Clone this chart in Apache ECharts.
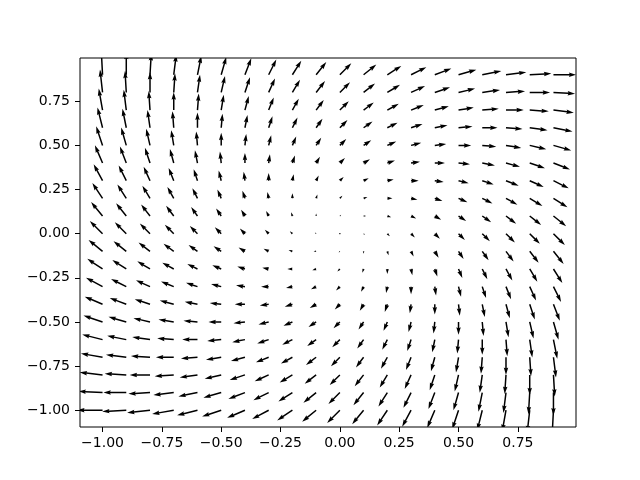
<!DOCTYPE html>
<html>
<head>
<meta charset="utf-8">
<script src="https://cdn.jsdelivr.net/npm/echarts@6/dist/echarts.min.js"></script>
<style>html,body{margin:0;padding:0;background:#fff;}#chart{width:640px;height:480px;}</style>
</head>
<body>
<div id="chart"></div>
<script>
var xs = [-1.0,-0.9,-0.8,-0.7,-0.6,-0.5,-0.4,-0.3,-0.2,-0.1,0.0,0.1,0.2,0.3,0.4,0.5,0.6,0.7,0.8,0.9];
var ys = [-1.0,-0.9,-0.8,-0.7,-0.6,-0.5,-0.4,-0.3,-0.2,-0.1,0.0,0.1,0.2,0.3,0.4,0.5,0.6,0.7,0.8,0.9];
var U = [
[-2.0,-1.9,-1.8,-1.7,-1.6,-1.5,-1.4,-1.3,-1.2,-1.1,-1.0,-0.9,-0.8,-0.7,-0.6,-0.5,-0.4,-0.3,-0.2,-0.1],
[-1.9,-1.8,-1.7,-1.6,-1.5,-1.4,-1.3,-1.2,-1.1,-1.0,-0.9,-0.8,-0.7,-0.6,-0.5,-0.4,-0.3,-0.2,-0.1,0.0],
[-1.8,-1.7,-1.6,-1.5,-1.4,-1.3,-1.2,-1.1,-1.0,-0.9,-0.8,-0.7,-0.6,-0.5,-0.4,-0.3,-0.2,-0.1,0.0,0.1],
[-1.7,-1.6,-1.5,-1.4,-1.3,-1.2,-1.1,-1.0,-0.9,-0.8,-0.7,-0.6,-0.5,-0.4,-0.3,-0.2,-0.1,0.0,0.1,0.2],
[-1.6,-1.5,-1.4,-1.3,-1.2,-1.1,-1.0,-0.9,-0.8,-0.7,-0.6,-0.5,-0.4,-0.3,-0.2,-0.1,0.0,0.1,0.2,0.3],
[-1.5,-1.4,-1.3,-1.2,-1.1,-1.0,-0.9,-0.8,-0.7,-0.6,-0.5,-0.4,-0.3,-0.2,-0.1,0.0,0.1,0.2,0.3,0.4],
[-1.4,-1.3,-1.2,-1.1,-1.0,-0.9,-0.8,-0.7,-0.6,-0.5,-0.4,-0.3,-0.2,-0.1,0.0,0.1,0.2,0.3,0.4,0.5],
[-1.3,-1.2,-1.1,-1.0,-0.9,-0.8,-0.7,-0.6,-0.5,-0.4,-0.3,-0.2,-0.1,0.0,0.1,0.2,0.3,0.4,0.5,0.6],
[-1.2,-1.1,-1.0,-0.9,-0.8,-0.7,-0.6,-0.5,-0.4,-0.3,-0.2,-0.1,0.0,0.1,0.2,0.3,0.4,0.5,0.6,0.7],
[-1.1,-1.0,-0.9,-0.8,-0.7,-0.6,-0.5,-0.4,-0.3,-0.2,-0.1,0.0,0.1,0.2,0.3,0.4,0.5,0.6,0.7,0.8],
[-1.0,-0.9,-0.8,-0.7,-0.6,-0.5,-0.4,-0.3,-0.2,-0.1,0.0,0.1,0.2,0.3,0.4,0.5,0.6,0.7,0.8,0.9],
[-0.9,-0.8,-0.7,-0.6,-0.5,-0.4,-0.3,-0.2,-0.1,0.0,0.1,0.2,0.3,0.4,0.5,0.6,0.7,0.8,0.9,1.0],
[-0.8,-0.7,-0.6,-0.5,-0.4,-0.3,-0.2,-0.1,0.0,0.1,0.2,0.3,0.4,0.5,0.6,0.7,0.8,0.9,1.0,1.1],
[-0.7,-0.6,-0.5,-0.4,-0.3,-0.2,-0.1,0.0,0.1,0.2,0.3,0.4,0.5,0.6,0.7,0.8,0.9,1.0,1.1,1.2],
[-0.6,-0.5,-0.4,-0.3,-0.2,-0.1,0.0,0.1,0.2,0.3,0.4,0.5,0.6,0.7,0.8,0.9,1.0,1.1,1.2,1.3],
[-0.5,-0.4,-0.3,-0.2,-0.1,0.0,0.1,0.2,0.3,0.4,0.5,0.6,0.7,0.8,0.9,1.0,1.1,1.2,1.3,1.4],
[-0.4,-0.3,-0.2,-0.1,0.0,0.1,0.2,0.3,0.4,0.5,0.6,0.7,0.8,0.9,1.0,1.1,1.2,1.3,1.4,1.5],
[-0.3,-0.2,-0.1,0.0,0.1,0.2,0.3,0.4,0.5,0.6,0.7,0.8,0.9,1.0,1.1,1.2,1.3,1.4,1.5,1.6],
[-0.2,-0.1,0.0,0.1,0.2,0.3,0.4,0.5,0.6,0.7,0.8,0.9,1.0,1.1,1.2,1.3,1.4,1.5,1.6,1.7],
[-0.1,0.0,0.1,0.2,0.3,0.4,0.5,0.6,0.7,0.8,0.9,1.0,1.1,1.2,1.3,1.4,1.5,1.6,1.7,1.8]
];
var V = [
[0.0,-0.1,-0.2,-0.3,-0.4,-0.5,-0.6,-0.7,-0.8,-0.9,-1.0,-1.1,-1.2,-1.3,-1.4,-1.5,-1.6,-1.7,-1.8,-1.9],
[0.1,0.0,-0.1,-0.2,-0.3,-0.4,-0.5,-0.6,-0.7,-0.8,-0.9,-1.0,-1.1,-1.2,-1.3,-1.4,-1.5,-1.6,-1.7,-1.8],
[0.2,0.1,0.0,-0.1,-0.2,-0.3,-0.4,-0.5,-0.6,-0.7,-0.8,-0.9,-1.0,-1.1,-1.2,-1.3,-1.4,-1.5,-1.6,-1.7],
[0.3,0.2,0.1,0.0,-0.1,-0.2,-0.3,-0.4,-0.5,-0.6,-0.7,-0.8,-0.9,-1.0,-1.1,-1.2,-1.3,-1.4,-1.5,-1.6],
[0.4,0.3,0.2,0.1,0.0,-0.1,-0.2,-0.3,-0.4,-0.5,-0.6,-0.7,-0.8,-0.9,-1.0,-1.1,-1.2,-1.3,-1.4,-1.5],
[0.5,0.4,0.3,0.2,0.1,0.0,-0.1,-0.2,-0.3,-0.4,-0.5,-0.6,-0.7,-0.8,-0.9,-1.0,-1.1,-1.2,-1.3,-1.4],
[0.6,0.5,0.4,0.3,0.2,0.1,0.0,-0.1,-0.2,-0.3,-0.4,-0.5,-0.6,-0.7,-0.8,-0.9,-1.0,-1.1,-1.2,-1.3],
[0.7,0.6,0.5,0.4,0.3,0.2,0.1,0.0,-0.1,-0.2,-0.3,-0.4,-0.5,-0.6,-0.7,-0.8,-0.9,-1.0,-1.1,-1.2],
[0.8,0.7,0.6,0.5,0.4,0.3,0.2,0.1,0.0,-0.1,-0.2,-0.3,-0.4,-0.5,-0.6,-0.7,-0.8,-0.9,-1.0,-1.1],
[0.9,0.8,0.7,0.6,0.5,0.4,0.3,0.2,0.1,0.0,-0.1,-0.2,-0.3,-0.4,-0.5,-0.6,-0.7,-0.8,-0.9,-1.0],
[1.0,0.9,0.8,0.7,0.6,0.5,0.4,0.3,0.2,0.1,0.0,-0.1,-0.2,-0.3,-0.4,-0.5,-0.6,-0.7,-0.8,-0.9],
[1.1,1.0,0.9,0.8,0.7,0.6,0.5,0.4,0.3,0.2,0.1,0.0,-0.1,-0.2,-0.3,-0.4,-0.5,-0.6,-0.7,-0.8],
[1.2,1.1,1.0,0.9,0.8,0.7,0.6,0.5,0.4,0.3,0.2,0.1,0.0,-0.1,-0.2,-0.3,-0.4,-0.5,-0.6,-0.7],
[1.3,1.2,1.1,1.0,0.9,0.8,0.7,0.6,0.5,0.4,0.3,0.2,0.1,0.0,-0.1,-0.2,-0.3,-0.4,-0.5,-0.6],
[1.4,1.3,1.2,1.1,1.0,0.9,0.8,0.7,0.6,0.5,0.4,0.3,0.2,0.1,0.0,-0.1,-0.2,-0.3,-0.4,-0.5],
[1.5,1.4,1.3,1.2,1.1,1.0,0.9,0.8,0.7,0.6,0.5,0.4,0.3,0.2,0.1,0.0,-0.1,-0.2,-0.3,-0.4],
[1.6,1.5,1.4,1.3,1.2,1.1,1.0,0.9,0.8,0.7,0.6,0.5,0.4,0.3,0.2,0.1,0.0,-0.1,-0.2,-0.3],
[1.7,1.6,1.5,1.4,1.3,1.2,1.1,1.0,0.9,0.8,0.7,0.6,0.5,0.4,0.3,0.2,0.1,0.0,-0.1,-0.2],
[1.8,1.7,1.6,1.5,1.4,1.3,1.2,1.1,1.0,0.9,0.8,0.7,0.6,0.5,0.4,0.3,0.2,0.1,0.0,-0.1],
[1.9,1.8,1.7,1.6,1.5,1.4,1.3,1.2,1.1,1.0,0.9,0.8,0.7,0.6,0.5,0.4,0.3,0.2,0.1,0.0]
];
var xTicks = [-1.0,-0.75,-0.5,-0.25,0.0,0.25,0.5,0.75];
var yTicks = [-1.0,-0.75,-0.5,-0.25,0.0,0.25,0.5,0.75];

// Build data and matplotlib-like autoscale
var data = [];
var sumMag = 0, n = 0;
for (var i = 0; i < ys.length; i++) {
  for (var j = 0; j < xs.length; j++) {
    data.push([xs[j], ys[i], U[i][j], V[i][j]]);
    sumMag += Math.sqrt(U[i][j]*U[i][j] + V[i][j]*V[i][j]);
    n++;
  }
}
var amean = sumMag / n;
var sn = Math.max(10, Math.sqrt(n));
var qscale = 1.8 * amean * sn; // data units per axes width
var widthFrac = 0.06 / Math.min(25, Math.max(8, Math.sqrt(n))); // shaft width as fraction of axes width

function fmt(v) {
  var s = Math.abs(v).toFixed(2);
  return (v < -1e-9 ? '\u2212' : '') + s;
}

var chart = echarts.init(document.getElementById('chart'), null, {renderer: 'canvas'});
var labelStyle = {color: '#000', fontFamily: 'DejaVu Sans', fontSize: 14};
chart.setOption({
  animation: false,
  backgroundColor: '#fff',
  grid: {left: 80, right: 64, top: 58, bottom: 53, show: true, borderColor: '#000', borderWidth: 1, backgroundColor: 'transparent'},
  xAxis: {
    type: 'value', min: -1.095, max: 0.995,
    axisLine: {show: false, onZero: false},
    splitLine: {show: false},
    axisTick: {show: true, length: 5, lineStyle: {color: '#000', width: 1}, customValues: xTicks},
    axisLabel: Object.assign({margin: 9, customValues: xTicks, formatter: fmt}, labelStyle)
  },
  yAxis: {
    type: 'value', min: -1.095, max: 0.995,
    axisLine: {show: false, onZero: false},
    splitLine: {show: false},
    axisTick: {show: true, length: 5, lineStyle: {color: '#000', width: 1}, customValues: yTicks},
    axisLabel: Object.assign({margin: 10, customValues: yTicks, formatter: fmt}, labelStyle)
  },
  series: [{
    type: 'custom',
    coordinateSystem: 'cartesian2d',
    clip: true,
    data: data,
    encode: {x: 0, y: 1},
    renderItem: function (params, api) {
      var x = api.value(0), y = api.value(1), u = api.value(2), v = api.value(3);
      var p = api.coord([x, y]);
      var cs = params.coordSys;
      var w = widthFrac * cs.width;
      var mag = Math.sqrt(u*u + v*v);
      var Lpx = mag / qscale * cs.width;
      var L = Lpx / w;
      var pts = [];
      if (L < 1) {
        for (var k = 0; k < 6; k++) {
          var th = k * Math.PI / 3;
          pts.push([p[0] + Math.cos(th) * 0.5 * w, p[1] + Math.sin(th) * 0.5 * w]);
        }
      } else {
        var X, Y;
        if (L < 5) {
          var s = L / 5;
          X = [0, 0.5*s, 0, 5*s];
          Y = [0.5*s, 0.5*s, 1.5*s, 0];
        } else {
          X = [0, L - 4.5, L - 5, L];
          Y = [0.5, 0.5, 1.5, 0];
        }
        var ca = u / mag, sa = v / mag;
        var loc = [[X[0],Y[0]],[X[1],Y[1]],[X[2],Y[2]],[X[3],0],[X[2],-Y[2]],[X[1],-Y[1]],[X[0],-Y[0]]];
        for (var m = 0; m < loc.length; m++) {
          var lx = loc[m][0] * w, ly = loc[m][1] * w;
          pts.push([p[0] + lx*ca - ly*sa, p[1] - (lx*sa + ly*ca)]);
        }
      }
      return {type: 'polygon', shape: {points: pts}, style: {fill: '#000', stroke: null}};
    }
  }]
});
</script>
</body>
</html>
